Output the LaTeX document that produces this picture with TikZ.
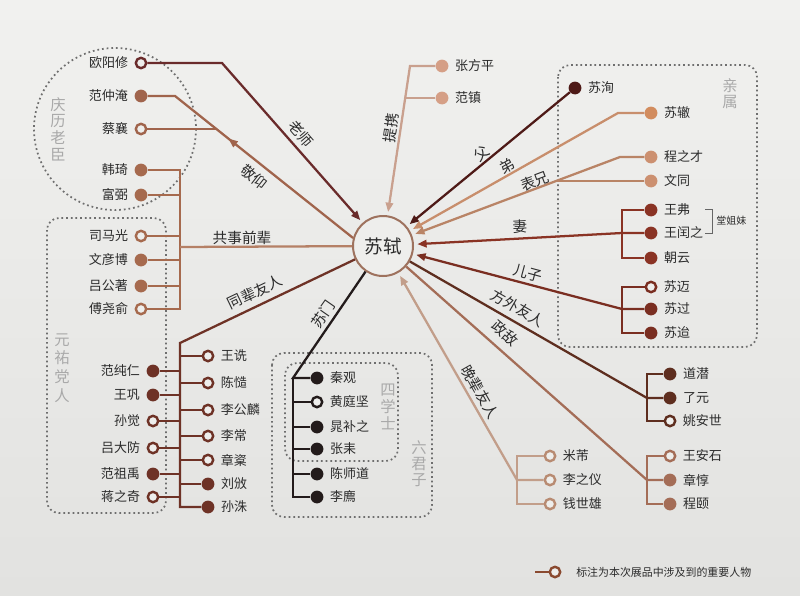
\documentclass[tikz,border=0pt]{standalone}
\usepackage{fontspec}
\setmainfont{Noto Sans CJK SC}
\usetikzlibrary{arrows.meta,calc,positioning}
\definecolor{bgtop}{HTML}{F1F1EF}
\definecolor{bgbot}{HTML}{E2E2E0}
\definecolor{ringfill}{HTML}{EEEEEC}
\definecolor{txt}{HTML}{2B2B2B}
\definecolor{grpc}{HTML}{A9A9A9}
\definecolor{dotc}{HTML}{6E6E6E}
\definecolor{cSU}{HTML}{9E725E}
\definecolor{cOY}{HTML}{6A2B2B}
\definecolor{cJY}{HTML}{A0644C}
\definecolor{cGS}{HTML}{A66A4E}
\definecolor{cGSl}{HTML}{B58066}
\definecolor{cTB}{HTML}{6E3226}
\definecolor{cSM}{HTML}{231B1B}
\definecolor{cTX}{HTML}{C9A08E}
\definecolor{cTXm}{HTML}{D59F86}
\definecolor{cFU}{HTML}{4E1A17}
\definecolor{cDI}{HTML}{C88E6C}
\definecolor{cDIm}{HTML}{D28C5E}
\definecolor{cBX}{HTML}{B98466}
\definecolor{cBXm}{HTML}{CC9070}
\definecolor{cQI}{HTML}{8A3324}
\definecolor{cEZ}{HTML}{7A2E21}
\definecolor{cFW}{HTML}{5E2E1F}
\definecolor{cZD}{HTML}{A46D57}
\definecolor{cWB}{HTML}{C29E8A}
\definecolor{cWBm}{HTML}{B88B72}
\definecolor{cLG}{HTML}{8A4A30}
\newcommand\PR[4]{\node[#1] (#2) at (#3) {}; \node[nm, right=4.6pt of #2] (#2t) {#4};}
\newcommand\PL[4]{\node[#1] (#2) at (#3) {}; \node[nm, left=4.6pt of #2] (#2t) {#4};}
\begin{document}
\begin{tikzpicture}[x=0.75pt,y=-0.75pt,
  ln/.style={line width=1.7pt},
  arr/.style={-{Triangle[length=7pt,width=5.5pt]}, shorten >=2.5pt},
  nm/.style={inner sep=0pt, font=\fontsize{9.75pt}{11pt}\selectfont, text=txt},
  rel/.style={inner sep=0pt, font=\fontsize{11pt}{12pt}\selectfont, text=txt},
  grp/.style={inner sep=0pt, align=center, text=grpc},
  mk/.style={circle, inner sep=0pt, minimum size=9.6pt},
  pdot/.style={mk, fill=#1},
  pring/.style={mk, minimum size=7.8pt, draw=#1, line width=1.8pt, fill=ringfill},
  dbox/.style={draw=dotc, line width=1.3pt, dash pattern=on 1.3pt off 2.2pt, rounded corners=9pt},
]
\useasboundingbox (0,0) rectangle (800,596);
\shade[top color=bgtop, bottom color=bgbot] (0,0) rectangle (800,596);

% group frames
\draw[dbox] (115,129) circle[radius=81];
\draw[dbox] (47,218) rectangle (166,513);
\draw[dbox] (558,65) rectangle (757,347);
\draw[dbox] (272,353) rectangle (432,517);
\draw[dbox] (285,363) rectangle (398,461);

\node[grp, font=\fontsize{11.5pt}{12.5pt}\selectfont] (gQL) at (58,129) {庆\\历\\老\\臣};
\node[grp, font=\fontsize{11.5pt}{14pt}\selectfont] (gYY) at (62,368) {元\\祐\\党\\人};
\node[grp, font=\fontsize{11.5pt}{12pt}\selectfont] (gQS) at (730,94) {亲\\属};
\node[grp, font=\fontsize{11.5pt}{12.5pt}\selectfont] (gSX) at (388,407) {四\\学\\士};
\node[grp, font=\fontsize{11.5pt}{12pt}\selectfont] (gLJ) at (419,464) {六\\君\\子};

% centre
\node[circle, draw=cSU, line width=1.5pt, fill=ringfill, minimum size=45pt, inner sep=0pt,
      font=\fontsize{14pt}{16pt}\selectfont, text=txt] (su) at (383,246) {苏轼};

% top-left
\PL{pring=cOY}{oy}{141,63}{欧阳修}
\PL{pdot=cJY}{fz}{141,96}{范仲淹}
\PL{pring=cJY}{cx}{141,129}{蔡襄}
\PL{pdot=cGS}{hq}{141,170}{韩琦}
\PL{pdot=cGS}{fb}{141,195}{富弼}
\PL{pring=cGS}{smg}{141,236}{司马光}
\PL{pdot=cGS}{wyb}{141,260}{文彦博}
\PL{pdot=cGS}{lgz}{141,286}{吕公著}
\PL{pring=cGS}{fyy}{141,309}{傅尧俞}

\coordinate (oyK) at (222,63);
\draw[ln,cOY,arr] (oy) -- (oyK) -- (su);
\coordinate (jyS) at (175,96);
\coordinate (jyE) at (su.165);
\draw[ln,cJY] (fz) -- (jyS) -- (jyE);
\coordinate (cxK) at (217,129);
\draw[ln,cJY] (cx) -- (cxK);
\draw[cJY, line width=1.2pt, -{Triangle[length=7pt,width=5.5pt]}] ($(jyS)!0.35!(jyE)$) -- ($(jyS)!0.30!(jyE)$);

\coordinate (gsX) at (180,170);
\coordinate (gsK) at (180,247);
\draw[ln,cGS] (hq) -- (hq -| gsX) -- (fyy -| gsX) -- (fyy);
\draw[ln,cGS] (fb) -- (fb -| gsX);
\draw[ln,cGS] (smg) -- (smg -| gsX);
\draw[ln,cGS] (wyb) -- (wyb -| gsX);
\draw[ln,cGS] (lgz) -- (lgz -| gsX);
\draw[ln,cGSl] (gsK) -- (su);

% bottom-left
\PL{pdot=cTB}{fcr}{153,371}{范纯仁}
\PL{pdot=cTB}{wg}{153,395}{王巩}
\PL{pring=cTB}{sj}{153,421}{孙觉}
\PL{pring=cTB}{ldf}{153,448}{吕大防}
\PL{pdot=cTB}{fzy}{153,474}{范祖禹}
\PL{pring=cTB}{jzq}{153,497}{蒋之奇}
\PR{pring=cTB}{wsh}{208,356}{王诜}
\PR{pring=cTB}{cz}{208,383}{陈慥}
\PR{pring=cTB}{lgl}{208,410}{李公麟}
\PR{pring=cTB}{lc}{208,436}{李常}
\PR{pring=cTB}{zj}{208,460}{章楶}
\PR{pdot=cTB}{lb}{208,484}{刘攽}
\PR{pdot=cTB}{ssu}{208,507}{孙洙}

\coordinate (tbK) at (180,343);
\draw[ln,cTB] (su) -- (tbK) -- (ssu -| tbK) -- (ssu);
\foreach \n in {wsh,cz,lgl,lc,zj,lb} \draw[ln,cTB] (\n -| tbK) -- (\n);
\foreach \n in {fcr,wg,sj,ldf,fzy,jzq} \draw[ln,cTB] (\n) -- (\n -| tbK);

% su men
\PR{pdot=cSM}{qg}{317,378}{秦观}
\PR{pring=cSM}{htj}{317,402}{黄庭坚}
\PR{pdot=cSM}{cbz}{317,427}{晁补之}
\PR{pdot=cSM}{zl}{317,449}{张耒}
\PR{pdot=cSM}{csd}{317,474}{陈师道}
\PR{pdot=cSM}{lzh}{317,497}{李廌}
\coordinate (smK) at (293,378);
\draw[ln,cSM] (su) -- (smK) -- (qg);
\draw[ln,cSM] (smK) -- (lzh -| smK) -- (lzh);
\foreach \n in {htj,cbz,zl,csd} \draw[ln,cSM] (\n -| smK) -- (\n);

% top middle
\PR{pdot=cTXm}{zfp}{442,66}{张方平}
\PR{pdot=cTXm}{fzh}{442,98}{范镇}
\coordinate (txK) at (410,66);
\draw[ln,cTX,arr] (zfp) -- (txK) -- (su);
\coordinate (fzhK) at ($(txK)!0.178!(su)$);
\draw[ln,cTX] (fzh) -- (fzh -| fzhK);

% relatives
\PR{pdot=cFU}{sx}{575,88}{苏洵}
\PR{pdot=cDIm}{szh}{651,113}{苏辙}
\PR{pdot=cBXm}{czc}{651,157}{程之才}
\PR{pdot=cBXm}{wt}{651,181}{文同}
\PR{pdot=cQI}{wf}{651,210}{王弗}
\PR{pdot=cQI}{wrz}{651,233}{王闰之}
\PR{pdot=cQI}{zy}{651,258}{朝云}
\PR{pring=cEZ}{sm}{651,287}{苏迈}
\PR{pdot=cEZ}{sg}{651,309}{苏过}
\PR{pdot=cEZ}{sd}{651,333}{苏迨}

\draw[ln,cFU,arr] (sx) -- (su);
\coordinate (dK) at (618,113);
\draw[ln,cDI,arr] (szh) -- (dK) -- (su);
\coordinate (bxK) at (620,157);
\draw[ln,cBX,arr] (czc) -- (bxK) -- (su);
\coordinate (wtK) at ($(bxK)!0.27!(su)$);
\draw[ln,cBX] (wt) -- (wt -| wtK);
\coordinate (qK) at (622,233);
\draw[ln,cQI,arr] (wrz) -- (qK) -- (su);
\draw[ln,cQI] (wf) -- (wf -| qK) -- (zy -| qK) -- (zy);
\coordinate (ezK) at (622,309);
\draw[ln,cEZ,arr] (sg) -- (ezK) -- (su);
\draw[ln,cEZ] (sm) -- (sm -| ezK) -- (sd -| ezK) -- (sd);

\coordinate (tjA) at (705,209);
\coordinate (tjB) at (712,209);
\coordinate (tjC) at (712,233);
\coordinate (tjD) at (705,233);
\draw[line width=0.6pt, black!60] (tjA) -- (tjB) -- (tjC) -- (tjD);
\node[inner sep=0pt, anchor=west, font=\fontsize{7.5pt}{8pt}\selectfont, text=txt] (tjm) at (716,221) {堂姐妹};

% right bottom
\PR{pdot=cFW}{dq}{670,374}{道潜}
\PR{pdot=cFW}{ly}{670,398}{了元}
\PR{pring=cFW}{yas}{670,421}{姚安世}
\coordinate (fwK) at (647,398);
\draw[ln,cFW] (ly) -- (fwK) -- (su);
\draw[ln,cFW] (dq) -- (dq -| fwK) -- (yas -| fwK) -- (yas);

\PR{pring=cZD}{was}{670,456}{王安石}
\PR{pdot=cZD}{zd}{670,480}{章惇}
\PR{pdot=cZD}{cy}{670,504}{程颐}
\coordinate (zdK) at (647,480);
\draw[ln,cZD] (zd) -- (zdK) -- (su);
\draw[ln,cZD] (was) -- (was -| zdK) -- (cy -| zdK) -- (cy);

\PR{pring=cWBm}{mf}{550,456}{米芾}
\PR{pring=cWBm}{lzy}{550,480}{李之仪}
\PR{pring=cWBm}{qsx}{550,504}{钱世雄}
\coordinate (wbK) at (517,480);
\draw[ln,cWB,arr] (lzy) -- (wbK) -- (su);
\draw[ln,cWB] (mf) -- (mf -| wbK) -- (qsx -| wbK) -- (qsx);

% relation labels
\node[rel, rotate=-49] (lLS) at (301,134) {老师};
\node[rel, rotate=-38] (lJY) at (254,177) {敬仰};
\node[rel] (lGS) at (242,238) {共事前辈};
\node[rel, rotate=25.5] (lTB) at (255,292) {同辈友人};
\node[rel, rotate=55] (lSM) at (323,314) {苏门};
\node[rel, rotate=82] (lTX) at (391,128) {提携};
\node[rel, rotate=39] (lFU) at (482,154) {父};
\node[rel, rotate=29] (lDI) at (507,166) {弟};
\node[rel, rotate=20.5] (lBX) at (535,181) {表兄};
\node[rel, rotate=3] (lQI) at (520,227) {妻};
\node[rel, rotate=-15] (lEZ) at (528,273) {儿子};
\node[rel, rotate=-30] (lFW) at (518,308) {方外友人};
\node[rel, rotate=-41.5] (lZD) at (505,333) {政敌};
\node[rel, rotate=-60.5] (lWB) at (480,392) {晚辈友人};

% legend
\node[pring=cLG] (lg) at (555,572) {};
\coordinate (lgL) at (535,572);
\draw[ln,cLG] (lgL) -- (lg);
\node[inner sep=0pt, anchor=west, font=\fontsize{8.2pt}{9pt}\selectfont, text=txt] (lgt) at (576,572) {标注为本次展品中涉及到的重要人物};
\end{tikzpicture}
\end{document}
